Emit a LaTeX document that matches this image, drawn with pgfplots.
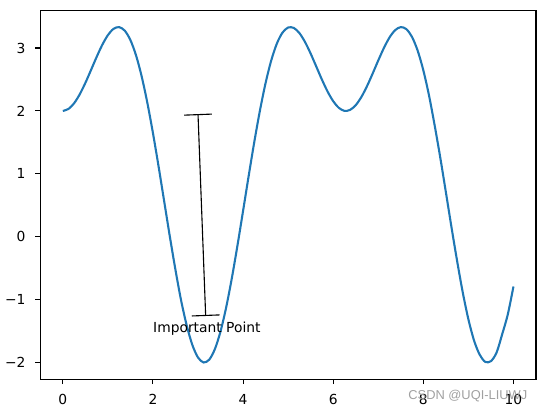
\documentclass[border=0pt]{standalone}
\usepackage{fontspec}
\setmainfont{DejaVu Sans}
\newfontfamily\wmfont{Liberation Sans}
\usepackage{pgfplots}
\pgfplotsset{compat=1.18}
\usetikzlibrary{arrows.meta}
\definecolor{mplblue}{HTML}{1F77B4}
\definecolor{wmgray}{RGB}{160,160,160}

\begin{document}
\begin{tikzpicture}
\begin{axis}[
  scale only axis,
  width=356.9bp, height=265.7bp,
  xmin=-0.5, xmax=10.5,
  ymin=-2.2667, ymax=3.6,
  xtick={0,2,...,10},
  xticklabels={0,2,4,6,8,10},
  ytick={-2,...,3},
  yticklabels={−2,−1,0,1,2,3},
  tick align=outside,
  tick pos=left,
  major tick length=3.5bp,
  every tick/.style={black, line width=0.8bp},
  axis line style={line width=0.8bp},
  tick label style={inner sep=0pt, font=\fontsize{10}{12}\selectfont},
  xticklabel style={yshift=-7bp},
  yticklabel style={xshift=-7bp},
  /pgf/number format/assume math mode=true,
  clip=false,
]
\addplot[mplblue, line width=1.5bp, smooth, tension=0.5] coordinates {
  (0,2.0000) (0.125,2.0310) (0.25,2.1215) (0.375,2.2635) (0.5,2.4447)
  (0.625,2.6489) (0.75,2.8573) (0.875,3.0494) (1.0,3.2048) (1.125,3.3046)
  (1.25,3.3324) (1.375,3.2755) (1.5,3.1265) (1.625,2.8828) (1.75,2.5482)
  (1.875,2.1318) (2.0,1.6482) (2.125,1.1181) (2.25,0.5599) (2.375,0.0028)
  (2.5,-0.5278) (2.625,-1.0133) (2.75,-1.4116) (2.875,-1.7211) (3.0,-1.9202)
  (3.125,-1.9989) (3.25,-1.9531) (3.375,-1.7853) (3.5,-1.5038) (3.625,-1.1227)
  (3.75,-0.6611) (3.875,-0.1415) (4.0,0.4110) (4.125,0.9702) (4.25,1.5114)
  (4.375,2.0092) (4.5,2.4451) (4.625,2.8026) (4.75,3.0710) (4.875,3.2452)
  (5.0,3.3259) (5.125,3.3196) (5.25,3.2375) (5.375,3.0950) (5.5,2.9107)
  (5.625,2.7047) (5.75,2.4974) (5.875,2.3084) (6.0,2.1546) (6.125,2.0495)
  (6.25,2.0002) (6.375,2.0168) (6.5,2.0920) (6.625,2.2214) (6.75,2.3937)
  (6.875,2.5935) (7.0,2.8027) (7.125,3.0011) (7.25,3.1683) (7.375,3.2845)
  (7.5,3.3328) (7.625,3.2994) (7.75,3.1749) (7.875,2.9566) (8.0,2.6455)
  (8.125,2.2496) (8.25,1.7753) (8.375,1.2612) (8.5,0.7087) (8.625,0.1494)
  (8.75,-0.3870) (8.875,-0.8863) (9.0,-1.3127) (9.125,-1.6492) (9.25,-1.8747)
  (9.375,-1.9901) (9.5,-1.9774) (9.625,-1.8414) (9.75,-1.5492) (9.875,-1.2326)
  (10.0,-0.7903)
};
% annotation: bar-ended line from the label to the point
\draw[line width=0.8bp, {Bar[width=20bp]}-{Bar[width=20bp]}]
  (axis cs:3.17,-1.26) -- (axis cs:3.0,1.95);
\node[anchor=base west, inner sep=0pt, font=\fontsize{10}{12}\selectfont]
  at (axis cs:2,-1.52) {Important Point};
% watermark
\node[anchor=base east, inner sep=0pt, text=wmgray]
  at ([xshift=-6.1bp, yshift=-14.4bp]rel axis cs:1,0)
  {\wmfont\fontsize{9.3}{11}\selectfont CSDN @UQI-LIUWJ};
\end{axis}
\pgfresetboundingbox
\path ([shift={(-29bp,-24.3bp)}]current axis.south west)
  rectangle ([shift={(7.2bp,7.4bp)}]current axis.north east);
\end{tikzpicture}
\end{document}
